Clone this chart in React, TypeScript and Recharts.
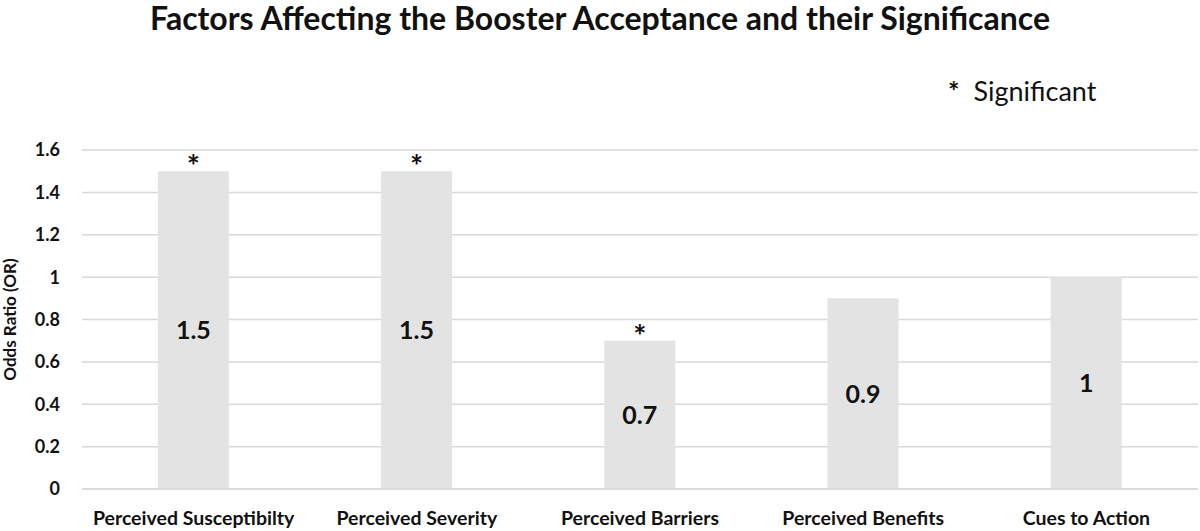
import React from 'react';
import { BarChart, Bar, XAxis, YAxis, CartesianGrid, LabelList, Label } from 'recharts';

const factors = [
  'Perceived Susceptibilty',
  'Perceived Severity',
  'Perceived Barriers',
  'Perceived Benefits',
  'Cues to Action',
];
const oddsRatios = [1.5, 1.5, 0.7, 0.9, 1];
const significant = [true, true, true, false, false];
const yTicks = [0, 0.2, 0.4, 0.6, 0.8, 1, 1.2, 1.4, 1.6];

const chartData = factors.map((name, i) => ({
  name,
  value: oddsRatios[i],
  sig: significant[i] ? '*' : '',
}));

const FONT = 'Lato, "Open Sans", sans-serif';

// asterisk drawn just above the top of a significant bar
const StarLabel = (props: any) => {
  const { x, y, width, value } = props;
  if (!value) return null;
  return (
    <text
      x={x + width / 2}
      y={y + 6}
      textAnchor="middle"
      fontFamily={FONT}
      fontWeight={700}
      fontSize={31}
      fill="#111"
    >
      {value}
    </text>
  );
};

const App = () => {
  return (
    <div style={{ position: 'absolute', left: 0, top: 0, width: 1200, height: 531, background: '#fff', fontFamily: FONT }}>
      {/* Title */}
      <div
        style={{
          position: 'absolute',
          top: -2,
          left: 0,
          width: 1200,
          textAlign: 'center',
          fontWeight: 700,
          fontSize: 32,
          color: '#111',
        }}
      >
        Factors Affecting the Booster Acceptance and their Significance
      </div>
      {/* Significance note */}
      <div style={{ position: 'absolute', top: 74, left: 948, fontSize: 27, color: '#111' }}>
        <span style={{ fontWeight: 700, marginRight: 14 }}>*</span>Significant
      </div>
      <BarChart
        width={1200}
        height={531}
        data={chartData}
        margin={{ top: 150, right: 2, bottom: 0, left: 0 }}
        barCategoryGap="34%"
      >
        <CartesianGrid vertical={false} stroke="#d9d9d9" strokeWidth={1.5} />
        <XAxis
          dataKey="name"
          axisLine={{ stroke: '#d9d9d9', strokeWidth: 1.5 }}
          tickLine={false}
          height={42}
          tickMargin={16}
          interval={0}
          tick={{ fontFamily: FONT, fontWeight: 700, fontSize: 19.5, fill: '#111' }}
        />
        <YAxis
          domain={[0, 1.6]}
          ticks={yTicks}
          width={82}
          axisLine={false}
          tickLine={false}
          tickMargin={16}
          tick={{ fontFamily: FONT, fontWeight: 700, fontSize: 18, fill: '#111' }}
        >
          <Label
            value="Odds Ratio (OR)"
            angle={-90}
            position="insideLeft"
            offset={10}
            style={{ textAnchor: 'middle', fontFamily: FONT, fontWeight: 700, fontSize: 17, fill: '#111' }}
          />
        </YAxis>
        <Bar dataKey="value" fill="#e3e3e3" isAnimationActive={false}>
          <LabelList
            dataKey="value"
            position="center"
            style={{ fontFamily: FONT, fontWeight: 700, fontSize: 25, fill: '#111' }}
          />
          <LabelList dataKey="sig" content={<StarLabel />} />
        </Bar>
      </BarChart>
    </div>
  );
};

export default App;
